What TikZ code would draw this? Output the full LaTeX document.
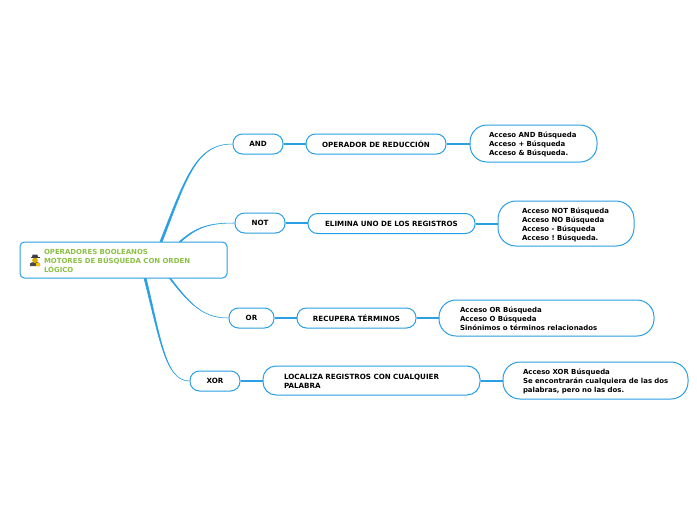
\documentclass[tikz,border=0pt]{standalone}
\usepackage{fontspec}
\setmainfont{DejaVu Sans}[BoldFont={DejaVu Sans Bold}]
\usetikzlibrary{backgrounds,calc}
\definecolor{linkblue}{HTML}{2A9FE3}
\definecolor{rootgreen}{HTML}{8CC044}
\hbadness=10000 \hfuzz=20pt
\frenchspacing
\tikzset{
  topicbox/.style={draw=linkblue,line width=1pt,fill=white,rectangle,inner sep=0pt,
    font=\bfseries\fontsize{6.95}{9}\selectfont\frenchspacing,text=black,align=left,
    execute at end node={\par\kern-2.4pt}},
  capsbox/.style={topicbox,font=\bfseries\fontsize{7.15}{9}\selectfont},
  pilltext/.style={capsbox,align=center,rounded corners=9.5pt,minimum height=20pt},
  link/.style={draw=linkblue,line width=1.5pt},
  taper/.style={fill=linkblue,draw=linkblue,line width=0.55pt}
}
\newcommand{\taperlink}[5]{% start, c1, c2, end, half width at start
  \path[taper] ($(#1)+(-#5,0)$) .. controls ($(#2)+(-#5*0.7,-#5*0.4)$) and (#3) .. (#4)
     .. controls (#3) and ($(#2)+(#5*0.7,#5*0.4)$) .. ($(#1)+(#5,0)$) -- cycle;
}
\begin{document}
\begin{tikzpicture}[x=1pt,y=-1pt]
\useasboundingbox (0,0) rectangle (697,520);
% central topic
\node[topicbox,rounded corners=4.5pt,minimum width=207pt,minimum height=36pt,text=rootgreen,text width=159pt] (root) at (123.5,260)
  {OPERADORES BOOLEANOS\\MOTORES DE BÚSQUEDA CON ORDEN\\LÓGICO};
% first level
\node[pilltext,minimum width=50pt,text width=48pt] (and) at (258,144) {AND};
\node[pilltext,minimum width=50pt,text width=48pt] (not) at (260,223) {NOT};
\node[pilltext,minimum width=45pt,text width=43pt] (or) at (251.5,318) {OR};
\node[pilltext,minimum width=50pt,text width=48pt] (xor) at (215,381) {XOR};
% second level
\node[pilltext,minimum width=140pt,text width=138pt] (op) at (376,144) {OPERADOR DE REDUCCIÓN};
\node[pilltext,minimum width=167pt,text width=165pt] (eli) at (391.5,223.5) {ELIMINA UNO DE LOS REGISTROS};
\node[pilltext,minimum width=119pt,text width=117pt] (rec) at (356.5,318) {RECUPERA TÉRMINOS};
\node[capsbox,rounded corners=13pt,minimum width=217pt,minimum height=29pt,text width=175pt] (loc) at (371.5,380.5) {LOCALIZA REGISTROS CON CUALQUIER\\PALABRA};
% third level
\node[topicbox,rounded corners=17pt,minimum width=127pt,minimum height=37pt,text width=89pt] (a1) at (533.5,143.5) {Acceso AND Búsqueda\\Acceso + Búsqueda\\Acceso \& Búsqueda.};
\node[topicbox,rounded corners=18pt,minimum width=136pt,minimum height=45pt,text width=88pt] (a2) at (566,223.5) {\mbox{Acceso NOT Búsqueda}\\Acceso NO Búsqueda\\Acceso - Búsqueda\\Acceso ! Búsqueda.};
\node[topicbox,rounded corners=17pt,minimum width=215pt,minimum height=36pt,text width=173pt] (a3) at (546.5,318) {Acceso OR Búsqueda\\Acceso O Búsqueda\\Sinónimos o términos relacionados};
\node[topicbox,rounded corners=17pt,minimum width=185pt,minimum height=37pt,text width=145pt] (a4) at (595.5,380.5) {Acceso XOR Búsqueda\\\mbox{Se encontrarán cualquiera de las dos}\\palabras, pero no las dos.};
% detective icon
\begin{scope}[shift={(35,260)}]
  \fill[black!70] (-5,6) -- (-5,3.5) .. controls (-4,1.5) and (4,1.5) .. (5,3.5) -- (5,6) -- cycle;
  \fill[orange!40!yellow!85!black] (0,0.3) circle (2.8);
  \fill[orange!50!yellow] (1,3.2) rectangle (5,6);
  \fill[black!75] (-3,-2.6) -- (-2.4,-5.5) -- (2.4,-5.5) -- (3,-2.6) -- cycle;
  \fill[black!75] (-4.5,-1.8) rectangle (4.5,-2.8);
\end{scope}
% connectors
\begin{scope}[on background layer]
  \coordinate (s1) at (153,262);
  \coordinate (c1a) at (184,186);
  \coordinate (c1b) at (192,144);
  \taperlink{s1}{c1a}{c1b}{and.west}{1.2}
  \coordinate (s2) at (165,258);
  \coordinate (c2a) at (190,228);
  \coordinate (c2b) at (205,223);
  \taperlink{s2}{c2a}{c2b}{not.west}{1.0}
  \coordinate (s3) at (155,258);
  \coordinate (c3a) at (187,302);
  \coordinate (c3b) at (200,318);
  \taperlink{s3}{c3a}{c3b}{or.west}{1.0}
  \coordinate (s4) at (141,262);
  \coordinate (c4a) at (160,335);
  \coordinate (c4b) at (164,381);
  \taperlink{s4}{c4a}{c4b}{xor.west}{1.2}
  \draw[link] (and) -- (op);
  \draw[link] (not.east) -- (eli.west|-not.east);
  \draw[link] (or) -- (rec);
  \draw[link] (xor.east) -- (loc.west|-xor.east);
  \draw[link] (op.east) -- (a1.west|-op.east);
  \draw[link] ($(eli.east)+(0,0.5)$) -- ($(a2.west)+(0,0.5)$);
  \draw[link] (rec) -- (a3);
  \draw[link] ($(loc.east)+(0,0.5)$) -- ($(a4.west)+(0,0.5)$);
\end{scope}
\end{tikzpicture}
\end{document}
